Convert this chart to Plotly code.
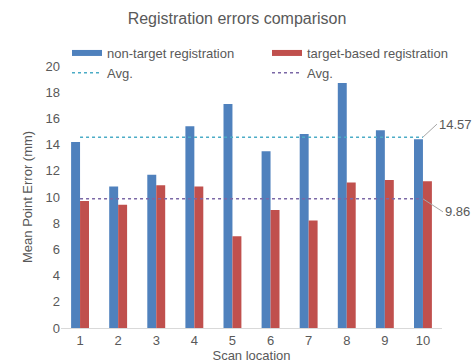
import plotly.graph_objects as go

categories = [1, 2, 3, 4, 5, 6, 7, 8, 9, 10]
tick_labels = ["1", "2", "3", "4", "5", "6", "7", "8", "9", "10"]
non_target = [14.2, 10.8, 11.7, 15.4, 17.1, 13.5, 14.8, 18.7, 15.1, 14.4]
target_based = [9.7, 9.4, 10.9, 10.8, 7.0, 9.0, 8.2, 11.1, 11.3, 11.2]
avg_non_target = 14.57
avg_target = 9.86

TXT = "#595959"
FONT = "Liberation Sans, Arial, sans-serif"
BLUE, RED, TEAL, PURPLE = "#4f81bd", "#c0504d", "#4bacc6", "#7b68a6"

W, H = 474, 364
ML, MR, MT, MB = 61, 32, 10, 36
PLOT_TOP_PX = 66
paper_h = H - MT - MB
paper_w = W - ML - MR
y_dom_top = (H - MB - PLOT_TOP_PX) / paper_h

fig = go.Figure()
fig.add_trace(go.Bar(x=categories, y=non_target, name="non-target registration",
                     marker=dict(color=BLUE, line=dict(width=0)), showlegend=False))
fig.add_trace(go.Bar(x=categories, y=target_based, name="target-based registration",
                     marker=dict(color=RED, line=dict(width=0)), showlegend=False))
fig.add_trace(go.Scatter(x=categories, y=[avg_non_target] * len(categories), name="Avg.",
                         mode="lines", line=dict(color=TEAL, width=1.5, dash="dot"),
                         showlegend=False))
fig.add_trace(go.Scatter(x=categories, y=[avg_target] * len(categories), name="Avg.",
                         mode="lines", line=dict(color=PURPLE, width=1.5, dash="dot"),
                         showlegend=False))

# legend entries (wide rectangular swatches like the reference), two columns
fig.add_trace(go.Scatter(x=[None], y=[None], name="non-target registration", mode="lines",
                         line=dict(color=BLUE, width=6), legend="legend"))
fig.add_trace(go.Scatter(x=[None], y=[None], name="Avg.", mode="lines",
                         line=dict(color=TEAL, width=1.5, dash="dot"), legend="legend"))
fig.add_trace(go.Scatter(x=[None], y=[None], name="target-based registration", mode="lines",
                         line=dict(color=RED, width=6), legend="legend2"))
fig.add_trace(go.Scatter(x=[None], y=[None], name="Avg.", mode="lines",
                         line=dict(color=PURPLE, width=1.5, dash="dot"), legend="legend2"))

fig.add_annotation(x=categories[-1], y=avg_non_target, text=f"{avg_non_target:.2f}",
                   showarrow=True, arrowhead=0, arrowwidth=1, arrowcolor="#a6a6a6",
                   ax=14, ay=-13, xanchor="left", font=dict(size=13, color=TXT, family=FONT))
fig.add_annotation(x=categories[-1], y=avg_target, text=f"{avg_target:.2f}",
                   showarrow=True, arrowhead=0, arrowwidth=1, arrowcolor="#a6a6a6",
                   ax=20, ay=13, xanchor="left", font=dict(size=13, color=TXT, family=FONT))

# y-axis title
fig.add_annotation(text="Mean Point Error (mm)", textangle=-90, showarrow=False,
                   xref="paper", x=(27 - ML) / paper_w, xanchor="center",
                   yref="paper", y=y_dom_top / 2, yanchor="middle",
                   font=dict(size=13, color=TXT, family=FONT))

legend_common = dict(orientation="v", xanchor="left", yref="container", y=1 - 38 / H,
                     yanchor="top", xref="container", traceorder="normal",
                     font=dict(size=13, color=TXT, family=FONT), itemwidth=30,
                     bgcolor="rgba(0,0,0,0)", tracegroupgap=0)

fig.update_layout(
    width=W, height=H,
    margin=dict(l=ML, r=MR, t=MT, b=MB, autoexpand=False),
    paper_bgcolor="white", plot_bgcolor="white",
    font=dict(family=FONT, color=TXT, size=13),
    title=dict(text="Registration errors comparison", x=0.5, xref="container", xanchor="center",
               y=1 - 18 / H, yref="container", yanchor="middle",
               font=dict(size=16, color=TXT, family=FONT)),
    barmode="group", bargap=0.53, bargroupgap=0,
    showlegend=True,
    legend=dict(x=67 / W, **legend_common),
    legend2=dict(x=267 / W, **legend_common),
    xaxis=dict(range=[0.5, 10.5], tickmode="array", tickvals=categories, ticktext=tick_labels,
               showgrid=False, zeroline=False, showline=True, linecolor="#d9d9d9", linewidth=1,
               ticks="", automargin=False,
               title=dict(text="Scan location", standoff=0, font=dict(size=13, color=TXT)),
               tickfont=dict(size=13, color=TXT)),
    yaxis=dict(range=[0, 20], dtick=2, domain=[0, y_dom_top], showgrid=False, zeroline=False,
               showline=False, ticks="", automargin=False,
               tickfont=dict(size=13, color=TXT)),
)

fig.write_html("out.html", config={"displayModeBar": False},
               post_script="document.body.style.margin='0';document.body.style.overflow='hidden';")
